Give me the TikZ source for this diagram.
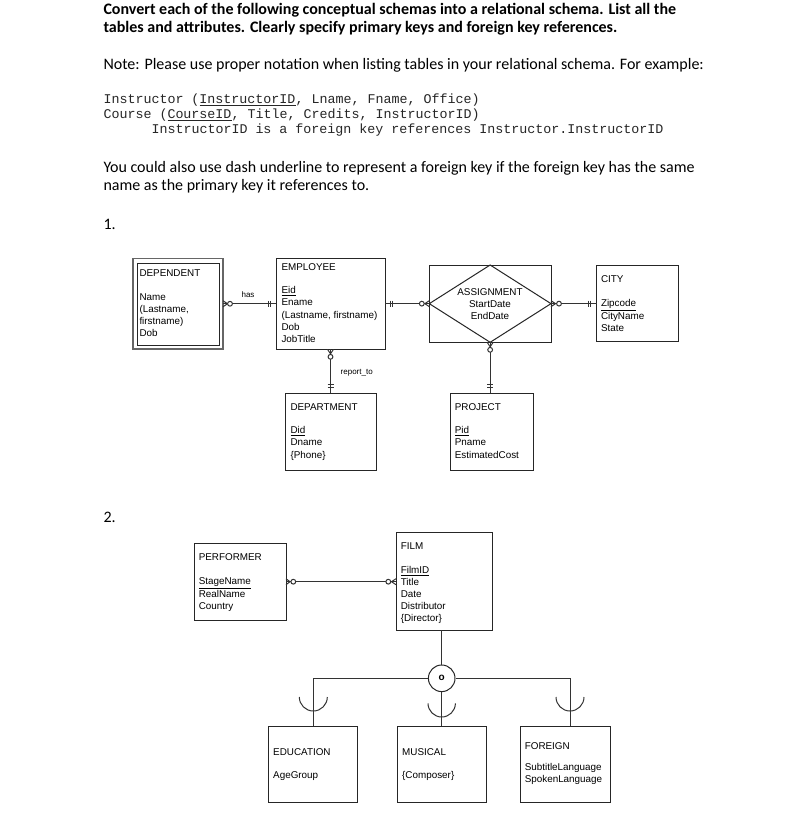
\documentclass[tikz,border=0pt]{standalone}
\usepackage{fontspec}
\setmainfont{Carlito}
\newfontfamily\monof{Liberation Mono}
\newfontfamily\arialf{Liberation Sans}
\usetikzlibrary{calc}
\newcommand\dfont{\arialf\fontsize{7.4}{9.15}\selectfont}
\newcommand\lblfont{\arialf\fontsize{6}{7}\selectfont}
\newcommand\bodyfont{\fontsize{12}{14.4}\selectfont}
\newcommand\mfont{\monof\fontsize{10}{11.3}\selectfont}
\newcommand\attrs[1]{\begin{tabular}[t]{@{}l@{}}#1\end{tabular}}
\begin{document}
\begin{tikzpicture}[x=0.75pt,y=-0.75pt,line width=0.75pt,
  ent/.style 2 args={draw=black!85, minimum width=#1*0.75pt, minimum height=#2*0.75pt,
    anchor=north west, inner sep=0pt, outer sep=0pt},
  txt/.style={anchor=base west, inner sep=0pt, font=\dfont},
  body/.style={anchor=base west, inner sep=0pt, font=\bodyfont},
  mono/.style={anchor=base west, inner sep=0pt, font=\mfont, text=black!85},
  lbl/.style={inner sep=0pt, font=\lblfont},
  conn/.style={draw=black!80},
  tick/.style={draw=black!80}]
\useasboundingbox (0,0) rectangle (810,815);
\fill[white] (0,0) rectangle (810,815);

% ---------- header text ----------
\node[body] (t1) at (103,14) {\bfseries Convert each of the following conceptual schemas into a relational schema. List all the};
\node[body] (t2) at (103,32.5) {\bfseries tables and attributes. Clearly specify primary keys and foreign key references.};
\node[body] (t3) at (103,69.5) {Note: Please use proper notation when listing tables in your relational schema. For example:};
\node[mono] (m1) at (103,103) {Instructor (\underline{InstructorID}, Lname, Fname, Office)};
\node[mono] (m2) at (103,118) {Course (\underline{CourseID}, Title, Credits, InstructorID)};
\node[mono] (m3) at (151,133) {InstructorID is a foreign key references Instructor.InstructorID};
\node[body] (t4) at (103,172) {You could also use dash underline to represent a foreign key if the foreign key has the same};
\node[body] (t5) at (103,190.5) {name as the primary key it references to.};
\node[body] (n1) at (103,229) {1.};
\node[body] (n2) at (103,522) {2.};

% ---------- diagram 1 ----------
\node[ent={90}{90.5}, draw=black!60, line width=1.1pt] (depo) at (133,258.5) {};
\node[ent={82}{82}] (depi) at (137,263) {};
\node[ent={109}{91}] (emp) at (276,258.3) {};
\node[ent={121.7}{77.3}] (asg) at (429.3,265) {};
\node[ent={81.6}{76.7}] (city) at (596.7,265) {};
\node[ent={90.3}{76.7}] (dept) at (285.7,393.3) {};
\node[ent={83.3}{76.7}] (proj) at (450,393.3) {};
\draw[draw=black!85] (asg.west) -- (asg.north) -- (asg.east) -- (asg.south) -- cycle;

\node[txt] (deptxt) at (139,276.5) {\attrs{DEPENDENT\\[8.5pt] Name\\ (Lastname,\\ firstname)\\ Dob}};
\node[txt] (emptxt) at (281,270.2) {\attrs{EMPLOYEE\\[8.5pt] \underline{Eid}\\ Ename\\ (Lastname, firstname)\\ Dob\\ JobTitle}};
\node[txt, anchor=base] (asgtxt) at (490,295) {\begin{tabular}[t]{@{}c@{}}ASSIGNMENT\\ StartDate\\ EndDate\end{tabular}};
\node[txt] (citytxt) at (600.5,282.8) {\attrs{CITY\\[8.5pt] \underline{Zipcode}\\ CityName\\ State}};
\node[txt] (depttxt) at (290,410.2) {\attrs{DEPARTMENT\\[8.5pt] \underline{Did}\\ Dname\\ \{Phone\}}};
\node[txt] (projtxt) at (454.3,410.2) {\attrs{PROJECT\\[8.5pt] \underline{Pid}\\ Pname\\ EstimatedCost}};

% has
\draw[conn] (depo.east) -- (depo.east -| emp.west);
\draw[tick] ($(depo.east)+(0,-3)$) -- ($(depo.east)+(4.5,0)$) -- ($(depo.east)+(0,3)$);
\draw[tick, fill=white] ($(depo.east)+(7,0)$) circle[radius=2.4];
\draw[tick] ($(depo.east -| emp.west)+(-8,-3)$) -- ++(0,6);
\draw[tick] ($(depo.east -| emp.west)+(-6,-3)$) -- ++(0,6);
\node[lbl] (has) at (248,294.5) {has};

% employee - assignment
\draw[conn] (emp.east |- asg.west) -- (asg.west);
\draw[tick] ($(emp.east |- asg.west)+(5,-3)$) -- ++(0,6);
\draw[tick] ($(emp.east |- asg.west)+(7.5,-3)$) -- ++(0,6);
\draw[tick] ($(asg.west)+(0,-3)$) -- ($(asg.west)+(-4.5,0)$) -- ($(asg.west)+(0,3)$);
\draw[tick, fill=white] ($(asg.west)+(-7.5,0)$) circle[radius=2.4];

% assignment - city
\draw[conn] (asg.east) -- (asg.east -| city.west);
\draw[tick] ($(asg.east)+(0,-3)$) -- ($(asg.east)+(4.5,0)$) -- ($(asg.east)+(0,3)$);
\draw[tick, fill=white] ($(asg.east)+(8,0)$) circle[radius=2.4];
\draw[tick] ($(asg.east -| city.west)+(-8.5,-3)$) -- ++(0,6);
\draw[tick] ($(asg.east -| city.west)+(-6,-3)$) -- ++(0,6);

% report_to
\draw[conn] (emp.south) -- (emp.south |- dept.north);
\draw[tick] ($(emp.south)+(-3,0)$) -- ($(emp.south)+(0,4.5)$) -- ($(emp.south)+(3,0)$);
\draw[tick, fill=white] ($(emp.south)+(0,7.5)$) circle[radius=2.4];
\draw[tick] ($(emp.south |- dept.north)+(-3,-8.5)$) -- ++(6,0);
\draw[tick] ($(emp.south |- dept.north)+(-3,-6)$) -- ++(6,0);
\node[lbl] (rep) at (356.7,373) {report\_to};

% assignment - project
\draw[conn] (asg.south) -- (asg.south |- proj.north);
\draw[tick] ($(asg.south)+(-3,0)$) -- ($(asg.south)+(0,4.5)$) -- ($(asg.south)+(3,0)$);
\draw[tick, fill=white] ($(asg.south)+(0,7.5)$) circle[radius=2.4];
\draw[tick] ($(asg.south |- proj.north)+(-3,-8.5)$) -- ++(6,0);
\draw[tick] ($(asg.south |- proj.north)+(-3,-6)$) -- ++(6,0);

% ---------- diagram 2 ----------
\node[ent={92}{76.7}] (perf) at (194,543.3) {};
\node[ent={96.3}{97.3}] (film) at (396,532.7) {};
\node[ent={89.4}{76.7}] (edu) at (268.3,726) {};
\node[ent={89.4}{76.7}] (mus) at (397.3,726) {};
\node[ent={90}{76.7}] (forg) at (520,726) {};

\node[txt] (perftxt) at (198.3,560.8) {\attrs{PERFORMER\\[8.5pt] \underline{StageName}\\ RealName\\ Country}};
\node[txt] (filmtxt) at (400.3,549.5) {\attrs{FILM\\[8.5pt] \underline{FilmID}\\ Title\\ Date\\ Distributor\\ \{Director\}}};
\node[txt] (edutxt) at (272.7,755.2) {\attrs{EDUCATION\\[8.5pt] AgeGroup}};
\node[txt] (mustxt) at (401.7,755.2) {\attrs{MUSICAL\\[8.5pt] \{Composer\}}};
\node[txt] (forgtxt) at (524.3,749.2) {\attrs{FOREIGN\\[7pt] SubtitleLanguage\\ SpokenLanguage}};

% performer - film
\draw[conn] (perf.east |- 0,581.7) -- (film.west |- 0,581.7);
\draw[tick] ($(perf.east |- 0,581.7)+(0,-3)$) -- ($(perf.east |- 0,581.7)+(4,0)$) -- ($(perf.east |- 0,581.7)+(0,3)$);
\draw[tick, fill=white] ($(perf.east |- 0,581.7)+(7.3,0)$) circle[radius=2.4];
\draw[tick] ($(film.west |- 0,581.7)+(0,-3)$) -- ($(film.west |- 0,581.7)+(-4.5,0)$) -- ($(film.west |- 0,581.7)+(0,3)$);
\draw[tick, fill=white] ($(film.west |- 0,581.7)+(-7.7,0)$) circle[radius=2.4];

% specialization
\node[circle, draw=black!85, minimum size=26.6*0.75pt, inner sep=0pt, font=\arialf\bfseries\fontsize{7.5}{9}\selectfont] (ovl) at (441.7,678.3) {o};
\coordinate (fr) at (570,678.3);
\draw[conn] (ovl.north) -- (ovl.north |- film.south);
\draw[conn] (ovl.west) -- (ovl.west -| edu.north) -- (edu.north);
\draw[conn] (ovl.east) -- (fr) -- (fr |- forg.north);
\draw[conn] (ovl.south) -- (ovl.south |- mus.north);
\draw[tick] (299.3,697) arc[start angle=180,end angle=0,radius=14];
\draw[tick] (428,703.3) arc[start angle=180,end angle=0,radius=13.7];
\draw[tick] (556,697) arc[start angle=180,end angle=0,radius=14];
\end{tikzpicture}
\end{document}
